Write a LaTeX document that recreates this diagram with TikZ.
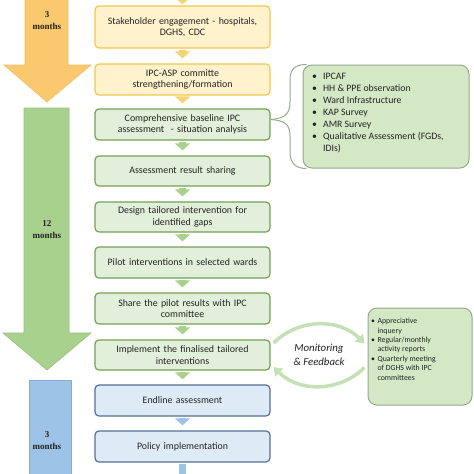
\documentclass[tikz,border=0pt]{standalone}
\usepackage{fontspec}
\setmainfont{Carlito}
\newfontfamily\monthfont{Liberation Serif}
\usetikzlibrary{arrows.meta}
\definecolor{txt}{RGB}{35,35,35}
\definecolor{yfill}{RGB}{255,242,204}
\definecolor{yline}{RGB}{240,200,80}
\definecolor{gfill}{RGB}{226,239,218}
\definecolor{gline}{RGB}{118,160,88}
\definecolor{bfill}{RGB}{222,235,247}
\definecolor{bline}{RGB}{85,112,150}
\definecolor{yarrow}{RGB}{250,200,110}
\definecolor{yarrowline}{RGB}{238,190,100}
\definecolor{garrow}{RGB}{169,209,142}
\definecolor{garrowline}{RGB}{150,190,125}
\definecolor{barrow}{RGB}{157,195,230}
\definecolor{barrowline}{RGB}{135,170,210}
\definecolor{sfill}{RGB}{212,232,198}
\definecolor{sline}{RGB}{150,170,140}
\definecolor{fbcol}{RGB}{197,224,180}
\begin{document}
\begin{tikzpicture}[x=1pt,y=-1pt,
  box/.style={draw, rounded corners=4pt, line width=1.2pt, minimum width=175pt,
    inner sep=0pt, text width=172pt, align=center, text=txt,
    font=\fontsize{9.9}{11.5}\selectfont},
  ybox/.style={box, fill=yfill, draw=yline},
  gbox/.style={box, fill=gfill, draw=gline},
  bbox/.style={box, fill=bfill, draw=bline},
  link/.style={line width=7pt, -{Triangle[width=15pt,length=7pt]},
    shorten <=1pt, shorten >=5pt},
  ylink/.style={link, draw=yline!80},
  glink/.style={link, draw=garrow},
  blink/.style={link, draw=barrow},
  side/.style={draw=sline, fill=sfill, line width=1pt, rounded corners=9pt},
  months/.style={font=\monthfont\bfseries\fontsize{9}{12}\selectfont, align=center, text=txt},
  brace/.style={draw=sline, line width=1pt},
  fb/.style={draw=fbcol, line width=3.5pt, -{Triangle[width=11pt,length=8pt]}},
]
\clip (0,0) rectangle (474,474);
\useasboundingbox (0,0) rectangle (474,474);
\fill[white] (0,0) rectangle (474,474);

% big period arrows
\filldraw[fill=yarrow, draw=yarrowline, line width=0.6pt]
  (25,-2) -- (68,-2) -- (68,65) -- (91,65) -- (47,102) -- (4,65) -- (25,65) -- cycle;
\filldraw[fill=garrow, draw=garrowline, line width=0.6pt]
  (24,108) -- (69,108) -- (69,333) -- (91,333) -- (47,370) -- (3,333) -- (24,333) -- cycle;
\filldraw[fill=barrow, draw=barrowline, line width=0.6pt] (29,380) rectangle (71,478);
\node[months] (m1) at (47,21) {3\\months};
\node[months] (m2) at (47,230) {12\\months};
\node[months] (m3) at (47,441) {3\\months};

% process boxes
\node[ybox, minimum height=42pt] (b1) at (182.5,27) {Stakeholder engagement - hospitals,\\DGHS, CDC};
\node[ybox, minimum height=31pt] (b2) at (182.5,79.5) {IPC-ASP committe\\strengthening/formation};
\node[gbox, minimum height=31pt] (b3) at (182.5,124.5) {Comprehensive baseline IPC\\assessment\ \ - situation analysis};
\node[gbox, minimum height=30pt] (b4) at (182.5,171) {Assessment result sharing};
\node[gbox, minimum height=30pt] (b5) at (182.5,217) {Design tailored intervention for\\identified gaps};
\node[gbox, minimum height=31pt] (b6) at (182.5,262.5) {Pilot interventions in selected wards};
\node[gbox, minimum height=31pt] (b7) at (182.5,308.5) {Share the pilot results with IPC\\committee};
\node[gbox, minimum height=30pt] (b8) at (182.5,355) {Implement the finalised tailored\\interventions};
\node[bbox, minimum height=31pt] (b9) at (182.5,400.5) {Endline assessment};
\node[bbox, minimum height=31pt] (b10) at (182.5,446.5) {Policy implementation};

\coordinate (top) at (182.5,-8);
\coordinate (bottom) at (182.5,482);
\draw[ylink, shorten <=0pt, shorten >=1pt] (top) -- (b1);
\draw[ylink] (b1) -- (b2);
\draw[ylink] (b2) -- (b3);
\draw[glink] (b3) -- (b4);
\draw[glink] (b4) -- (b5);
\draw[glink] (b5) -- (b6);
\draw[glink] (b6) -- (b7);
\draw[glink] (b7) -- (b8);
\draw[glink] (b8) -- (b9);
\draw[blink] (b9) -- (b10);
\draw[blink, shorten >=0pt] (b10) -- (bottom);

% assessment details
\node[side, minimum width=166pt, minimum height=103pt] (G) at (386,116.5) {};
\node[anchor=west, inner sep=0pt, text=txt, font=\fontsize{9.8}{12}\selectfont] (Gt) at (312,113)
 {\begin{tabular}{@{}l@{\hspace{6pt}}l@{}}
  • & IPCAF\\
  • & HH \& PPE observation\\
  • & Ward Infrastructure\\
  • & KAP Survey\\
  • & AMR Survey\\
  • & Qualitative Assessment (FGDs,\\
    & IDIs)
  \end{tabular}};
\draw[brace] ([yshift=5pt]b3.east) .. controls +(14,-1) and +(0,12) .. (290,102)
  -- (290,80) .. controls +(0,-12) and +(-10,0) .. ([xshift=4pt]G.north west);
\draw[brace] ([yshift=5pt]b3.east) .. controls +(14,1) and +(0,-12) .. (290,136)
  -- (290,152) .. controls +(0,12) and +(-10,0) .. ([xshift=4pt]G.south west);

% monitoring details
\node[side, minimum width=104pt, minimum height=97pt] (R) at (420,356.5) {};
\node[anchor=west, inner sep=0pt, text=txt, font=\fontsize{7.8}{9.4}\selectfont] (Rt) at (371,350)
 {\begin{tabular}{@{}l@{\hspace{2.5pt}}l@{}}
  • & Appreciative\\
    & inquery\\
  • & Regular/monthly\\
    & activity reports\\
  • & Quarterly meeting\\
    & of DGHS with IPC\\
    & committees
  \end{tabular}};
\node[font=\itshape\fontsize{10.8}{13.5}\selectfont, align=center, text=txt] (mf) at (319,355)
  {Monitoring\\\& Feedback};
\draw[fb] ([xshift=3pt,yshift=12pt]b8.east) to[bend left=45] ([xshift=-3pt,yshift=13pt]R.west);
\draw[fb] ([xshift=-3pt,yshift=-11pt]R.west) to[bend left=45] ([xshift=3pt,yshift=-12pt]b8.east);
\end{tikzpicture}
\end{document}
